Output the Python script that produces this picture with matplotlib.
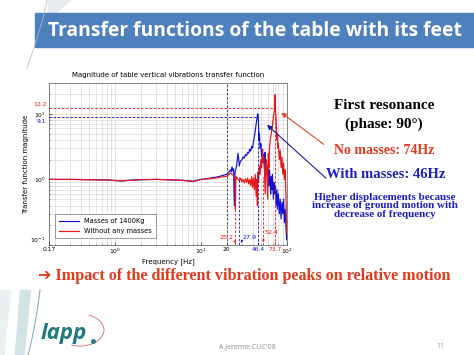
import matplotlib
matplotlib.use("Agg")
import matplotlib.pyplot as plt
from matplotlib.ticker import FixedLocator, FixedFormatter, LogLocator, NullFormatter
from matplotlib.patches import Rectangle, FancyArrowPatch, Arc
from matplotlib.transforms import blended_transform_factory
import numpy as np

# ---------------- data ----------------
freq_mass = [0.17, 0.3, 0.5, 0.8, 1.0, 1.2, 1.5, 2, 3, 4, 5, 6, 7, 8, 9, 10, 12, 14, 16, 18,
             20, 21, 22, 22.5, 23, 23.5, 24, 24.5, 25, 26, 26.5, 27, 27.5, 28, 28.5, 29, 30,
             31, 32, 33, 34, 35, 36, 37, 38, 39, 40, 41, 42, 43, 44, 45, 45.8, 46.4, 47,
             47.5, 48, 49, 50, 51, 52, 53, 54, 55, 56, 57, 58, 60, 61, 62, 63, 64, 65, 66,
             67, 68, 70, 71, 72, 74, 75, 77, 78, 80, 82, 84, 86, 88, 90, 92, 94, 96, 98, 100]
mag_mass = [1.00, 1.00, 0.99, 0.98, 0.96, 0.95, 0.97, 0.99, 1.00, 0.99, 0.98, 0.97, 0.95,
            0.94, 0.96, 1.00, 1.03, 1.07, 1.10, 1.15, 1.20, 1.28, 1.40, 1.30, 1.55, 1.35,
            1.45, 0.40, 1.30, 1.60, 2.0, 2.5, 2.1, 1.6, 1.8, 1.9, 2.0, 2.2, 2.1, 2.4, 2.3,
            2.6, 2.5, 2.9, 2.7, 3.2, 3.0, 3.8, 4.5, 5.5, 7.0, 8.5, 10.0, 9.5, 6.5, 4.0, 5.0,
            3.0, 3.5, 2.2, 2.8, 1.8, 2.4, 1.5, 2.6, 1.2, 1.8, 1.0, 1.6, 0.8, 1.4, 0.9, 0.6,
            1.1, 0.7, 1.2, 0.5, 0.9, 0.6, 0.8, 0.4, 0.7, 0.35, 0.6, 0.3, 0.5, 0.25, 0.45,
            0.3, 0.5, 0.22, 0.35, 0.18, 0.12]

freq_free = [0.17, 0.3, 0.5, 0.8, 1.0, 1.2, 1.5, 2, 3, 5, 7, 8, 9, 10, 12, 15, 18, 20, 21,
             22, 23, 24, 25, 25.2, 25.5, 26, 27, 28, 29, 30, 31, 32, 33, 34, 35, 36, 37, 38,
             39, 40, 41, 42, 43, 44, 45, 45.5, 46, 47, 48, 49, 50, 51, 52, 52.4, 53, 54, 55,
             56, 57, 58, 60, 61, 62, 63, 64, 66, 68, 70, 72, 73.2, 73.7, 75, 76, 77, 78, 79,
             80, 82, 84, 86, 88, 90, 92, 94, 96, 98, 99, 100]
mag_free = [1.00, 1.00, 0.99, 0.98, 0.96, 0.95, 0.97, 0.99, 1.00, 0.98, 0.95, 0.93, 0.96,
            1.00, 1.02, 1.05, 1.10, 1.12, 1.18, 1.25, 1.20, 1.15, 1.05, 0.35, 1.0, 1.10,
            1.0, 0.95, 1.05, 0.92, 1.0, 0.88, 1.02, 0.9, 1.05, 0.85, 1.0, 0.8, 1.1, 0.75,
            1.05, 0.7, 1.2, 0.55, 1.0, 0.4, 1.3, 0.9, 1.6, 1.2, 2.0, 1.5, 2.4, 2.9, 1.8,
            2.2, 1.4, 0.6, 1.6, 2.0, 0.5, 2.5, 1.5, 3.0, 3.8, 5.0, 6.5, 9.0, 11.5, 19.5,
            12.2, 9.0, 6.0, 4.0, 5.0, 3.0, 3.5, 2.0, 2.8, 1.5, 2.2, 1.2, 1.8, 1.0, 1.4, 0.6,
            0.25, 0.15]

series_labels = ["Masses of 1400Kg", "Without any masses"]
xtick_vals = [0.17, 1, 10, 20, 46.4, 73.7, 100]
xtick_labels = ["0.17", "$10^0$", "$10^1$", "20", "46.4", "73.7", "$10^2$"]
ytick_vals = [0.1, 1, 10]
ytick_labels = ["$10^{-1}$", "$10^0$", "$10^1$"]
peak_free, peak_mass = 12.2, 9.1
f_free, f_mass = 73.7, 46.4
dips = [(25.2, "25.2", "red"), (27.9, "27.9", "blue"), (52.4, "52.4", "red")]

BLUE = "#1010d8"
RED = "#e8161a"
TXT_RED = "#e03a1c"
TXT_BLUE = "#1c1cc0"

W, H = 474, 355
fig = plt.figure(figsize=(W / 100, H / 100), dpi=100)
fig.patch.set_facecolor("white")

def fx(x):
    return x / W

def fy(y):
    return 1 - y / H

# ---------------- slide decorations ----------------
deco = fig.add_axes([0, 0, 1, 1], zorder=-5)
deco.set_xlim(0, W)
deco.set_ylim(H, 0)
deco.axis("off")
t = np.linspace(0, 1, 50)
deco.plot(47 - 20 * t ** 1.2, 0 + 68 * t, color="#a9c0c7", lw=0.7, alpha=0.8)
yt = np.linspace(0, 12, 10)
deco.fill_betweenx(yt, 48, 70 - yt * 1.2, color="#e6ebee")
yy = np.linspace(290, 355, 40)
deco.fill_betweenx(yy, 20 - (yy - 290) * 0.08, 30 - (yy - 290) * 0.1, color="#d3e2e6")
deco.plot(40 - (yy - 290) * 0.12 - ((yy - 290) / 65) ** 2 * 4, yy, color="#7ea6b0", lw=0.7)
deco.fill_betweenx(yy, 0, 10 - (yy - 290) * 0.1, color="#eaf0f2")

# title bar
deco.add_patch(Rectangle((35, 13), W - 35, 34, color="#4d80bd", zorder=1))
deco.text(254.5, 30.5, "Transfer functions of the table with its feet", color="white",
          fontsize=13.9, fontweight="bold", family="Open Sans", ha="center", va="center",
          zorder=2)

# ---------------- chart ----------------
ax = fig.add_axes([fx(49.3), fy(245), fx(286.7) - fx(49.3), fy(83) - fy(245)])
ax.set_xscale("log")
ax.set_yscale("log")
ax.set_xlim(0.17, 100)
ax.set_ylim(0.1, 29.5)

ax.plot(freq_mass, mag_mass, color=BLUE, lw=0.85, label=series_labels[0], zorder=3)
ax.plot(freq_free, mag_free, color=RED, lw=0.85, label=series_labels[1], zorder=3)

ax.xaxis.set_major_locator(FixedLocator(xtick_vals))
ax.xaxis.set_major_formatter(FixedFormatter(xtick_labels))
ax.xaxis.set_minor_locator(LogLocator(base=10, subs=np.arange(2, 10)))
ax.xaxis.set_minor_formatter(NullFormatter())
ax.yaxis.set_major_locator(FixedLocator(ytick_vals))
ax.yaxis.set_major_formatter(FixedFormatter(ytick_labels))
ax.yaxis.set_minor_locator(LogLocator(base=10, subs=np.arange(2, 10)))
ax.yaxis.set_minor_formatter(NullFormatter())
ax.tick_params(which="both", direction="in", length=2, width=0.4, labelsize=4.3, pad=1.5)
ax.tick_params(axis="y", pad=2.6)
ax.tick_params(which="minor", length=1)
for lab, v in zip(ax.get_xticklabels(), xtick_vals):
    if v == f_mass:
        lab.set_color(BLUE)
    elif v == f_free:
        lab.set_color(RED)
for lab, v in zip(ax.get_yticklabels(), ytick_vals):
    if v == 0.1:
        lab.set_va("bottom")
ax.grid(True, which="both", color="#d0d0d0", lw=0.4)
for s in ax.spines.values():
    s.set_linewidth(0.5)
    s.set_color("#555555")

# peak value labels on the y axis
ytr = blended_transform_factory(ax.transAxes, ax.transData)
ax.text(-0.012, peak_free * 1.03, f"{peak_free}", color=RED, fontsize=4.3, ha="right",
        va="bottom", transform=ytr, clip_on=False)
ax.text(-0.012, peak_mass * 0.93, f"{peak_mass}", color=BLUE, fontsize=4.3, ha="right",
        va="top", transform=ytr, clip_on=False)

# annotation dashed lines
ax.axvline(20, color="#333333", ls=(0, (3, 2)), lw=0.6, zorder=4)
ax.plot([0.17, f_free], [peak_free, peak_free], color=RED, ls=(0, (3, 2)), lw=0.6, zorder=4)
ax.plot([f_free, f_free], [0.1, peak_free], color=RED, ls=(0, (3, 2)), lw=0.6, zorder=4)
ax.plot([0.17, f_mass], [peak_mass, peak_mass], color=BLUE, ls=(0, (3, 2)), lw=0.6, zorder=4)
ax.plot([f_mass, f_mass], [0.1, peak_mass], color=BLUE, ls=(0, (3, 2)), lw=0.6, zorder=4)
for f, lab, c in dips:
    col = RED if c == "red" else BLUE
    ax.plot([f, f], [0.1, 1.1], color=col, ls=(0, (3, 2)), lw=0.6, zorder=4)
ax.text(24.2, 0.128, "25.2", color=RED, fontsize=4.6, ha="right", va="center", zorder=5)
ax.annotate("", xy=(27.0, 0.1), xytext=(24.0, 0.118),
            arrowprops=dict(arrowstyle="-|>", color=RED, lw=0.5, mutation_scale=3))
ax.text(30.5, 0.128, "27.9", color=BLUE, fontsize=4.6, ha="left", va="center", zorder=5)
ax.annotate("", xy=(28.2, 0.1), xytext=(30.5, 0.12),
            arrowprops=dict(arrowstyle="-|>", color=BLUE, lw=0.5, mutation_scale=3))
ax.text(54.5, 0.155, "52.4", color=RED, fontsize=4.6, ha="left", va="center", zorder=5)
ax.annotate("", xy=(52.6, 0.1), xytext=(54.5, 0.14),
            arrowprops=dict(arrowstyle="-|>", color=RED, lw=0.5, mutation_scale=3))

ax.set_title("Magnitude of table vertical vibrations transfer function", fontsize=5,
             pad=4)
ax.set_xlabel("Frequency [Hz]", fontsize=5, labelpad=1.5)
ax.set_ylabel("Transfer function magnitude", fontsize=5, labelpad=1)
leg = ax.legend(loc="lower left", fontsize=4.8, frameon=True, fancybox=False,
                edgecolor="#555555", framealpha=1, handlelength=3, borderpad=0.6,
                labelspacing=0.6, bbox_to_anchor=(0.01, 0.02))
leg.get_frame().set_linewidth(0.4)

# ---------------- right side text ----------------
serif = ["Liberation Serif", "DejaVu Serif"]
fig.text(fx(384), fy(105), "First resonance", fontsize=11, fontweight="bold",
         family=serif, ha="center", va="center")
fig.text(fx(384), fy(124), "(phase: 90°)", fontsize=11, fontweight="bold",
         family=serif, ha="center", va="center")
fig.text(fx(384), fy(150), "No masses: 74Hz", fontsize=10, fontweight="bold",
         family=serif, color=TXT_RED, ha="center", va="center")
fig.text(fx(386), fy(174), "With masses: 46Hz", fontsize=10.5, fontweight="bold",
         family=serif, color=TXT_BLUE, ha="center", va="center")
fig.text(fx(385), fy(206), "Higher displacements because\nincrease of ground motion with\n"
         "decrease of frequency", fontsize=7.9, fontweight="bold", family=serif,
         color=TXT_BLUE, ha="center", va="center", linespacing=0.98)

arr_r = FancyArrowPatch((326, H - 146), (279, H - 111),
                        transform=None, arrowstyle="-|>", mutation_scale=7,
                        color="#e24a28", lw=0.8)
arr_b = FancyArrowPatch((328, H - 180), (265, H - 123),
                        transform=None, arrowstyle="-|>", mutation_scale=7,
                        color="#1a1aa8", lw=0.8)
fig.add_artist(arr_r)
fig.add_artist(arr_b)

# bottom statement
fig.text(fx(38), fy(276), "➔ Impact of the different vibration peaks on relative motion",
         fontsize=11.6, fontweight="bold", family=["Liberation Serif", "DejaVu Sans"],
         color=TXT_RED, ha="left", va="center")

# footer
fig.text(fx(247), fy(347), "A.Jeremie CLIC'08", fontsize=5, color="#909090",
         family="Open Sans", ha="center", va="center")
fig.text(fx(440), fy(347), "11", fontsize=5, color="#909090", family="Open Sans",
         ha="center", va="center")
fig.text(fx(41), fy(333), "lapp", fontsize=16, fontweight="bold", style="italic",
         color="#1f7a7f", family="Open Sans", ha="left", va="center")
deco.add_patch(Arc((80, 330), 48, 32, theta1=-60, theta2=120, color="#c96a6a", lw=0.6))
deco.plot([93], [341], marker="o", ms=2.5, color="#1f7a7f")

fig.savefig("out.png", dpi=100)
